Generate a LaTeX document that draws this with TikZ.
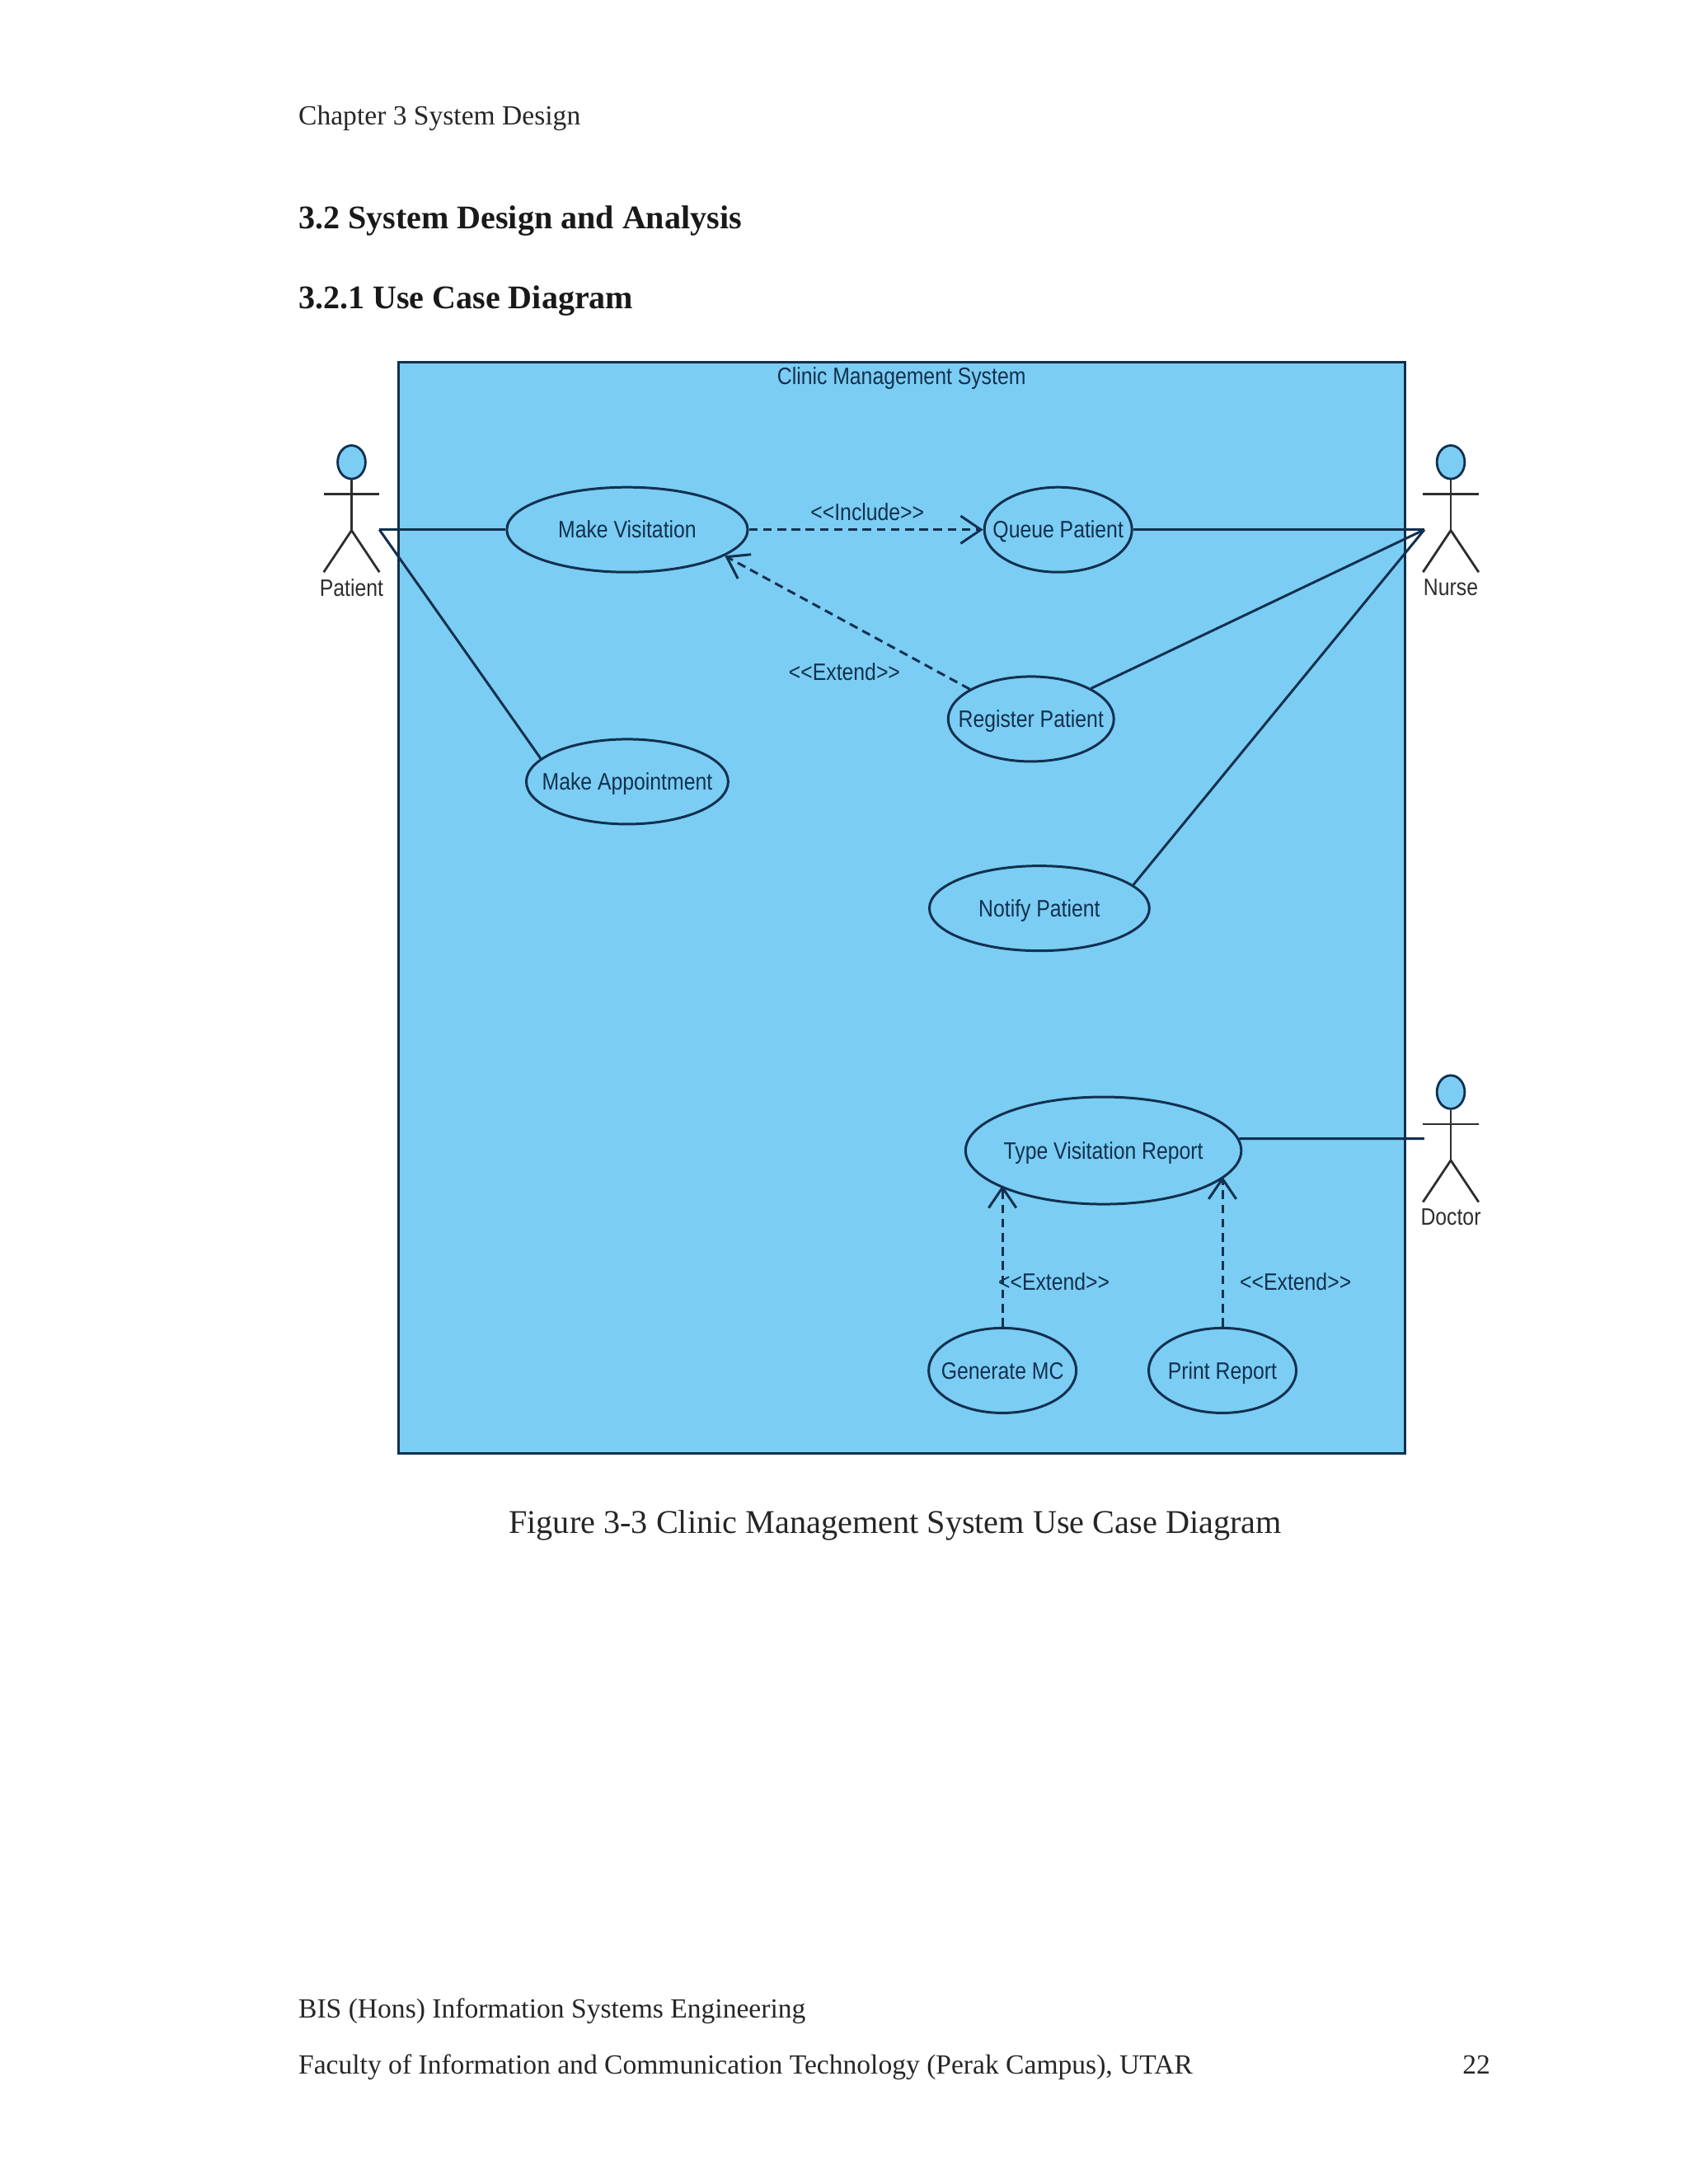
\documentclass[tikz,border=0pt]{standalone}
\usepackage{fontspec}
\setmainfont{Liberation Serif}
\newfontfamily\umlfont[FakeStretch=0.86]{Liberation Sans}
\usetikzlibrary{arrows.meta,positioning,shapes.geometric}
\definecolor{sysblue}{HTML}{7BCDF3}
\definecolor{umlnavy}{HTML}{12304F}
\definecolor{actorgrey}{HTML}{2E2E2E}
\newcommand{\unitlen}{0.016891cm}
\tikzset{
  pagetext/.style={anchor=base west,inner sep=0pt,font=\fontsize{9.55pt}{11pt}\selectfont,text=black!85},
  headtext/.style={anchor=base west,inner sep=0pt,font=\fontsize{11.4pt}{13pt}\selectfont\bfseries,text=black!90},
  usecase/.style={ellipse,draw=umlnavy,fill=sysblue,line width=0.85pt,inner xsep=-0.6cm,inner ysep=0pt,
    text height=7.5pt,text depth=1.7pt,font=\umlfont\fontsize{8.2pt}{10pt}\selectfont,text=umlnavy},
  umltext/.style={inner sep=0pt,font=\umlfont\fontsize{8.2pt}{10pt}\selectfont,text=umlnavy},
  actortext/.style={inner sep=0pt,font=\umlfont\fontsize{8.2pt}{10pt}\selectfont,text=actorgrey},
  assoc/.style={umlnavy,line width=0.85pt},
  dep/.style={umlnavy,line width=0.85pt,dash pattern=on 3pt off 1.9pt,->},
}
\begin{document}
\begin{tikzpicture}[x=\unitlen,y=-\unitlen,>={Straight Barb[length=7pt,width=9.5pt]}]
  \useasboundingbox (0,0) rectangle (1212.5,1568.9);
  % page text
  \node (chapter) [pagetext] at (214,89.5) {Chapter 3 System Design};
  \node (sec) [headtext] at (214,164.5) {3.2 System Design and Analysis};
  \node (subsec) [headtext] at (214,221.5) {3.2.1 Use Case Diagram};
  \node (caption) [pagetext,font=\fontsize{11.45pt}{14pt}\selectfont] at (365,1101.5) {Figure 3-3 Clinic Management System Use Case Diagram};
  \node (degree) [pagetext] at (214,1449.5) {BIS (Hons) Information Systems Engineering};
  \node (faculty) [pagetext] at (214,1490) {Faculty of Information and Communication Technology (Perak Campus), UTAR};
  \node (pageno) [pagetext] at (1050,1490) {22};
  % system box
  \node (system) [draw=umlnavy,fill=sysblue,line width=0.85pt,minimum width=722.6*\unitlen,minimum height=783.8*\unitlen,inner sep=0pt,anchor=north west] at (285.5,259.5) {};
  \node (systitle) [umltext] at (647.5,272) {Clinic Management System};
  % actors
  \foreach \name/\xa/\ya/\txt in {patient/252.5/332/Patient,nurse/1042/332/Nurse,doctor/1042/784.5/Doctor}{
    \node (\name head) [ellipse,draw=umlnavy,fill=sysblue,line width=0.8pt,inner sep=0pt,minimum width=20*\unitlen,minimum height=24*\unitlen] at (\xa,\ya) {};
    \coordinate (\name hip) at (\xa,\ya+49);
    \draw[actorgrey,line width=0.8pt] (\name head.south) -- (\name hip);
    \draw[actorgrey,line width=0.8pt] (\xa-20,\ya+23) -- (\xa+20,\ya+23);
    \draw[actorgrey,line width=0.8pt] (\xa-20,\ya+79) -- (\name hip) -- (\xa+20,\ya+79);
    \node (\name) [actortext] at (\xa,\ya+90) {\txt};
  }
  \coordinate (patientpt) at (272.5,380.5);
  \coordinate (nursept) at (1023,380.5);
  \coordinate (doctorpt) at (1023,818);
  % use cases
  \node (makevis) [usecase,minimum width=173*\unitlen,minimum height=61*\unitlen] at (450.5,380.5) {Make Visitation};
  \node (queue) [usecase,minimum width=106*\unitlen,minimum height=61*\unitlen] at (760,380.5) {Queue Patient};
  \node (register) [usecase,minimum width=119*\unitlen,minimum height=61*\unitlen] at (740.5,516.5) {Register Patient};
  \node (makeapp) [usecase,minimum width=145*\unitlen,minimum height=61*\unitlen] at (450.5,561.5) {Make Appointment};
  \node (notify) [usecase,minimum width=158*\unitlen,minimum height=61*\unitlen] at (746.5,652.5) {Notify Patient};
  \node (report) [usecase,minimum width=198*\unitlen,minimum height=77*\unitlen] at (792.5,826.5) {Type Visitation Report};
  \node (genmc) [usecase,minimum width=106*\unitlen,minimum height=61*\unitlen] at (720,984.5) {Generate MC};
  \node (print) [usecase,minimum width=106*\unitlen,minimum height=61*\unitlen] at (878,984.5) {Print Report};
  % connectors
  \path[assoc] (patientpt) edge (makevis.west)
               (patientpt) edge (makeapp.165)
               (queue.east) edge (nursept)
               (register.27) edge (nursept)
               (notify.14) edge (nursept)
               (report.5) edge (doctorpt);
  \path[dep] (makevis.east) edge (queue.west)
             (register.154) edge (makevis.-15)
             (genmc.north) edge (genmc.north |- report.198)
             (print.north) edge (print.north |- report.-12);
  % labels
  \node (inclabel) [umltext] at (623,368) {<{}<Include>{}>};
  \node (extlabela) [umltext] at (606.5,482.5) {<{}<Extend>{}>};
  \node (extlabelb) [umltext] at (757,920.5) {<{}<Extend>{}>};
  \node (extlabelc) [umltext] at (930.5,920.5) {<{}<Extend>{}>};
\end{tikzpicture}
\end{document}
